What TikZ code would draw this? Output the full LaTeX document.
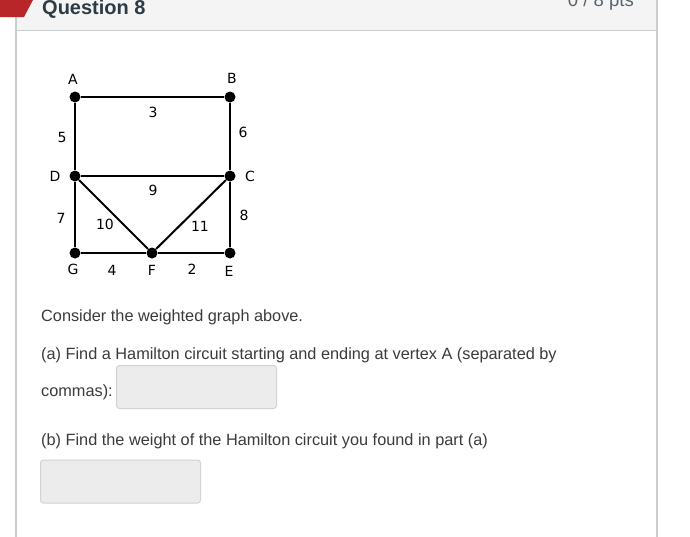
\documentclass[tikz,border=0pt]{standalone}
\usepackage{fontspec}
\setmainfont{Liberation Sans}
\newfontfamily\graphfont{DejaVu Sans}
\definecolor{hdrbg}{HTML}{F4F4F4}
\definecolor{frame}{HTML}{C7CDD1}
\definecolor{tagred}{HTML}{B8262A}
\definecolor{titlec}{HTML}{2D3B45}
\definecolor{bodyc}{HTML}{3B3B3B}
\definecolor{boxfill}{HTML}{ECECEC}
\definecolor{boxline}{HTML}{D2D2D2}
\tikzset{
  vtx/.style={circle,fill=black,inner sep=0pt,minimum size=11pt},
  edge/.style={line width=2pt,black},
  glabel/.style={font=\graphfont\fontsize{14}{16}\selectfont,inner sep=0pt,text=black},
  body/.style={font=\fontsize{16.3}{19}\selectfont,text=bodyc,inner sep=0pt,anchor=base west},
  inbox/.style={fill=boxfill,draw=boxline,line width=1pt,rounded corners=3pt},
}
\begin{document}
\begin{tikzpicture}[x=1pt,y=-1pt]
\clip (0,0) rectangle (690,536);
\fill[white] (0,0) rectangle (690,536);
% panel
\fill[hdrbg] (16,-5) rectangle (657,30);
\draw[frame,line width=1.2pt] (16,-5) -- (16,540);
\draw[frame,line width=1.2pt] (657,-5) -- (657,540);
\draw[frame,line width=1.2pt] (16,30.5) -- (657,30.5);
\fill[tagred] (0,-2) -- (34,-2) -- (24,17) -- (0,17) -- cycle;
\node[font=\bfseries\fontsize{20}{22}\selectfont,text=titlec,inner sep=0pt,anchor=base west] (title) at (42,14.5) {Question 8};
\node[font=\fontsize{18.5}{20}\selectfont,text=titlec!80,inner sep=0pt,anchor=base east] (pts) at (634,6) {0 / 8 pts};
% graph
\node[vtx] (A) at (75,97) {};
\node[vtx] (B) at (230,97) {};
\node[vtx] (D) at (75,176) {};
\node[vtx] (C) at (230,176) {};
\node[vtx] (G) at (75,253) {};
\node[vtx] (F) at (152,253) {};
\node[vtx] (E) at (230,253) {};
\draw[edge] (A) -- (B);
\draw[edge] (A) -- (D);
\draw[edge] (B) -- (C);
\draw[edge] (D) -- (C);
\draw[edge] (D) -- (G);
\draw[edge] (D) -- (F);
\draw[edge] (C) -- (F);
\draw[edge] (C) -- (E);
\draw[edge] (G) -- (F);
\draw[edge] (F) -- (E);
\node[glabel] (lA) at (73,79) {A};
\node[glabel] (lB) at (232,78) {B};
\node[glabel] (lD) at (55,176) {D};
\node[glabel] (lC) at (250,176) {C};
\node[glabel] (lG) at (73,269) {G};
\node[glabel] (lF) at (152,270) {F};
\node[glabel] (lE) at (229,271) {E};
\node[glabel] (w3) at (153,112) {3};
\node[glabel] (w5) at (62,137) {5};
\node[glabel] (w6) at (243,132) {6};
\node[glabel] (w9) at (153,190) {9};
\node[glabel] (w7) at (61,218) {7};
\node[glabel] (w10) at (105,224) {10};
\node[glabel] (w11) at (200,226) {11};
\node[glabel] (w8) at (244,215) {8};
\node[glabel] (w4) at (112,270) {4};
\node[glabel] (w2) at (192,269) {2};
% text
\node[body] (t1) at (41,321.5) {Consider the weighted graph above.};
\node[body] (t2) at (41,359) {(a) Find a Hamilton circuit starting and ending at vertex A (separated by};
\node[body] (t3) at (41,396.5) {commas):};
\draw[inbox] (116.5,365.5) rectangle (276.5,408.5);
\node[body] (t4) at (41,445.5) {(b) Find the weight of the Hamilton circuit you found in part (a)};
\draw[inbox] (40.5,460) rectangle (200.5,503);
\end{tikzpicture}
\end{document}
